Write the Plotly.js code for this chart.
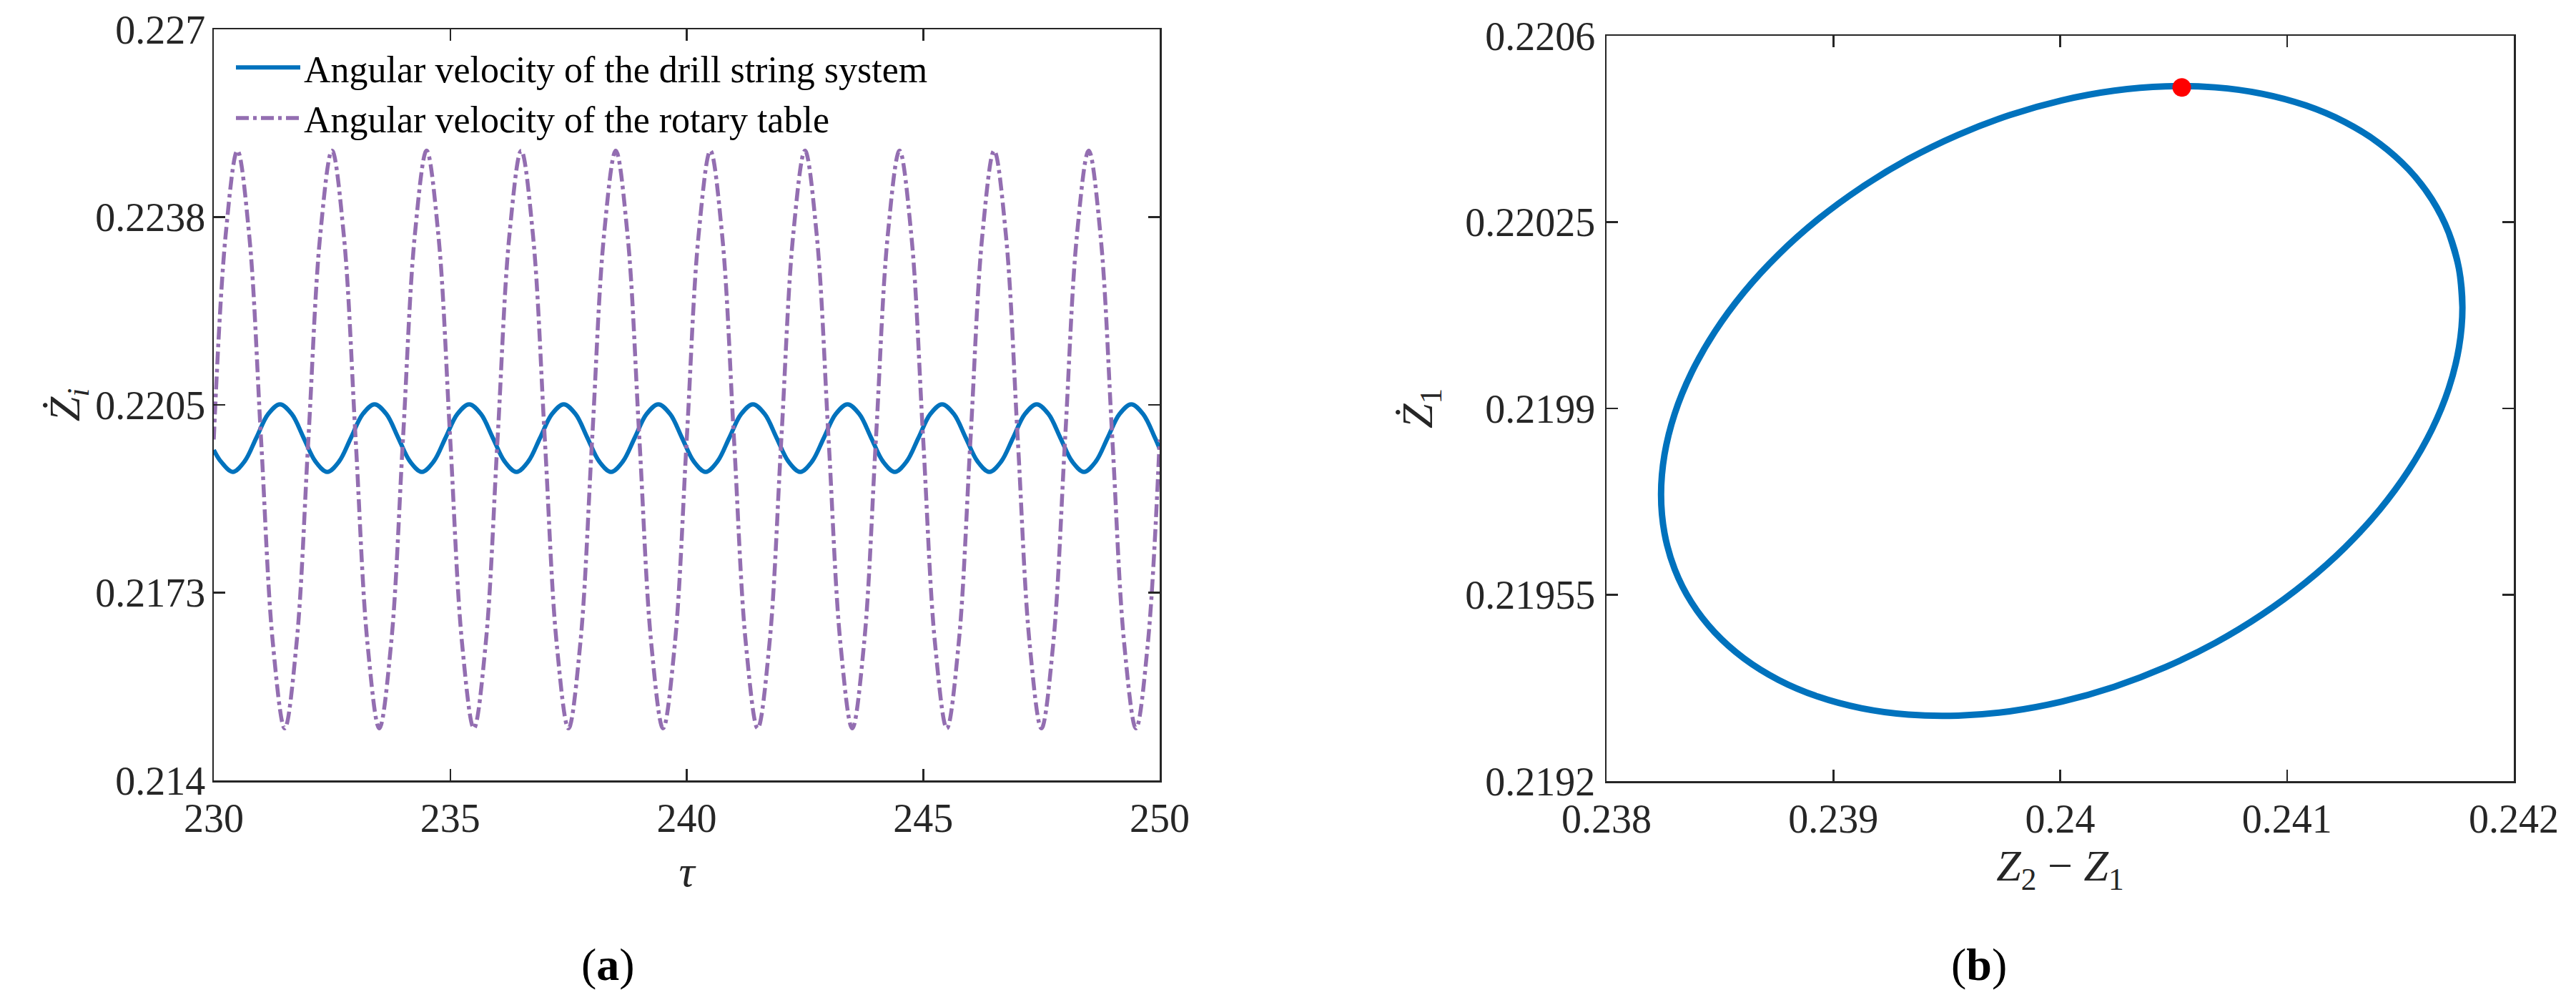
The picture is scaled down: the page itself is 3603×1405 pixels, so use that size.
<!DOCTYPE html>
<html>
<head>
<meta charset="utf-8">
<script src="https://cdn.plot.ly/plotly-3.0.1.min.js"></script>
<style>html,body{margin:0;padding:0;background:#fff;}#chart{width:3603px;height:1405px;}</style>
</head>
<body>
<div id="chart"></div>
<script>
// ---- Panel (a): time histories ----
var tauTable = [230,230.25,230.5,230.75,231,231.25,231.5,231.75,232,232.25,232.5,232.75,233,233.25,233.5,233.75,234,234.25,234.5,234.75,235,235.25,235.5,235.75,236,236.25,236.5,236.75,237,237.25,237.5,237.75,238,238.25,238.5,238.75,239,239.25,239.5,239.75,240,240.25,240.5,240.75,241,241.25,241.5,241.75,242,242.25,242.5,242.75,243,243.25,243.5,243.75,244,244.25,244.5,244.75,245,245.25,245.5,245.75,246,246.25,246.5,246.75,247,247.25,247.5,247.75,248,248.25,248.5,248.75,249,249.25,249.5,249.75,250];
var omegaTable = [0.2199,0.22343,0.2249,0.22343,0.2199,0.21637,0.2149,0.21637,
0.2199,0.22343,0.2249,0.22343,0.2199,0.21637,0.2149,0.21637,
0.2199,0.22343,0.2249,0.22343,0.2199,0.21637,0.2149,0.21637,
0.2199,0.22343,0.2249,0.22343,0.2199,0.21637,0.2149,0.21637,
0.2199,0.22343,0.2249,0.22343,0.2199,0.21637,0.2149,0.21637,
0.2199,0.22343,0.2249,0.22343,0.2199,0.21637,0.2149,0.21637,
0.2199,0.22343,0.2249,0.22343,0.2199,0.21637,0.2149,0.21637,
0.2199,0.22343,0.2249,0.22343,0.2199,0.21637,0.2149,0.21637,
0.2199,0.22343,0.2249,0.22343,0.2199,0.21637,0.2149,0.21637,
0.2199,0.22343,0.2249,0.22343,0.2199,0.21637,0.2149,0.21637,
0.2199];

var tauDrill = [230,230.15,230.4,230.65,230.9,231.15,231.4,231.65,231.9,
232.15,232.4,232.65,232.9,233.15,233.4,233.65,233.9,
234.15,234.4,234.65,234.9,235.15,235.4,235.65,235.9,
236.15,236.4,236.65,236.9,237.15,237.4,237.65,237.9,
238.15,238.4,238.65,238.9,239.15,239.4,239.65,239.9,
240.15,240.4,240.65,240.9,241.15,241.4,241.65,241.9,
242.15,242.4,242.65,242.9,243.15,243.4,243.65,243.9,
244.15,244.4,244.65,244.9,245.15,245.4,245.65,245.9,
246.15,246.4,246.65,246.9,247.15,247.4,247.65,247.9,
248.15,248.4,248.65,248.9,249.15,249.4,249.65,249.9,250];
var omegaDrill = [0.21972,0.21952,0.21934,0.21952,0.21993,0.22034,0.22051,0.22034,0.21993,
0.21952,0.21934,0.21952,0.21993,0.22034,0.22051,0.22034,0.21993,
0.21952,0.21934,0.21952,0.21993,0.22034,0.22051,0.22034,0.21993,
0.21952,0.21934,0.21952,0.21993,0.22034,0.22051,0.22034,0.21993,
0.21952,0.21934,0.21952,0.21993,0.22034,0.22051,0.22034,0.21993,
0.21952,0.21934,0.21952,0.21993,0.22034,0.22051,0.22034,0.21993,
0.21952,0.21934,0.21952,0.21993,0.22034,0.22051,0.22034,0.21993,
0.21952,0.21934,0.21952,0.21993,0.22034,0.22051,0.22034,0.21993,
0.21952,0.21934,0.21952,0.21993,0.22034,0.22051,0.22034,0.21993,
0.21952,0.21934,0.21952,0.21993,0.22034,0.22051,0.22034,0.21993,0.21974];

// ---- Panel (b): phase portrait (points read along the closed orbit; first three repeated to close it smoothly) ----
var relDisp = [0.2417735,0.2417584,0.2417133,0.2416390,0.2415368,0.2414085,0.2412561,0.2410824,
0.2408903,0.2406830,0.2404642,0.2402376,0.2400070,0.2397764,0.2395498,0.2393310,
0.2391238,0.2389316,0.2387579,0.2386055,0.2384772,0.2383750,0.2383007,0.2382556,
0.2382405,0.2382556,0.2383007,0.2383750,0.2384772,0.2386055,0.2387579,0.2389316,
0.2391238,0.2393310,0.2395498,0.2397764,0.2400070,0.2402376,0.2404642,0.2406830,
0.2408903,0.2410824,0.2412561,0.2414085,0.2415368,0.2416390,0.2417133,0.2417584,
0.2417735,0.2417584,0.2417133];
var velDrill = [0.2200900,0.2201622,0.2202301,0.2202927,0.2203487,0.2203974,0.2204378,0.2204692,
0.2204911,0.2205031,0.2205050,0.2204969,0.2204787,0.2204509,0.2204139,0.2203685,
0.2203150,0.2202549,0.2201889,0.2201182,0.2200439,0.2199675,0.2198902,0.2198132,
0.2197380,0.2196658,0.2195979,0.2195353,0.2194793,0.2194306,0.2193902,0.2193588,
0.2193369,0.2193249,0.2193230,0.2193311,0.2193493,0.2193771,0.2194141,0.2194595,
0.2195130,0.2195732,0.2196391,0.2197098,0.2197841,0.2198605,0.2199378,0.2200148,
0.2200900,0.2201622,0.2202301];
var markX = [0.240536];
var markY = [0.220503];

// ---- Tick labels ----
var ticksA_x = [230,235,240,245,250];
var ticksA_y = [0.214,0.21725,0.2205,0.22375,0.227];
var ticksA_yText = ['0.214','0.2173','0.2205','0.2238','0.227'];
var ticksB_x = [0.238,0.239,0.240,0.241,0.242];
var ticksB_xText = ['0.238','0.239','0.24','0.241','0.242'];
var ticksB_y = [0.2192,0.21955,0.2199,0.22025,0.2206];
var ticksB_yText = ['0.2192','0.21955','0.2199','0.22025','0.2206'];

var legendNames = ['Angular velocity of the drill string system','Angular velocity of the rotary table'];

var FONT = 'Liberation Serif, Times New Roman, serif';
var AX = '#262626';
var W = 3603, H = 1405;

var traces = [
  {x: tauDrill, y: omegaDrill, type: 'scatter', mode: 'lines', name: legendNames[0],
   line: {color: '#0072BD', width: 6, shape: 'spline', smoothing: 1}, xaxis: 'x', yaxis: 'y'},
  {x: tauTable, y: omegaTable, type: 'scatter', mode: 'lines', name: legendNames[1],
   line: {color: '#936EB1', width: 5.5, shape: 'spline', smoothing: 1, dash: '18px,6px,5px,6px'}, xaxis: 'x', yaxis: 'y'},
  {x: relDisp, y: velDrill, type: 'scatter', mode: 'lines', showlegend: false,
   line: {color: '#0072BD', width: 9, shape: 'spline', smoothing: 1}, xaxis: 'x2', yaxis: 'y2'},
  {x: markX, y: markY, type: 'scatter', mode: 'markers', showlegend: false,
   marker: {color: '#FF0000', size: 26}, xaxis: 'x2', yaxis: 'y2'}
];

function axisBase() {
  return {
    showline: true, linecolor: AX, linewidth: 2.5, mirror: 'ticks',
    ticks: 'inside', ticklen: 16, tickwidth: 2.5, tickcolor: AX,
    showgrid: false, zeroline: false, fixedrange: true,
    tickfont: {family: FONT, size: 56, color: AX},
    tickmode: 'array'
  };
}

var xa = Object.assign(axisBase(), {
  domain: [299/W, 1622/W], range: [230, 250], anchor: 'y',
  tickvals: ticksA_x, ticktext: ticksA_x.map(String), ticklabelstandoff: 2,
  title: {text: '<i>τ</i>', font: {family: FONT, size: 62, color: AX}, standoff: 22}
});
var ya = Object.assign(axisBase(), {
  domain: [1 - 1091/H, 1 - 41/H], range: [0.214, 0.227], anchor: 'x',
  tickvals: ticksA_y, ticktext: ticksA_yText, ticklabelstandoff: -2,
  title: {text: '<i>Ż</i><sub><i>i</i></sub>', font: {family: FONT, size: 62, color: AX}, standoff: 2}
});
var xb = Object.assign(axisBase(), {
  domain: [2247/W, 3516/W], range: [0.238, 0.242], anchor: 'y2',
  tickvals: ticksB_x, ticktext: ticksB_xText, ticklabelstandoff: 2,
  title: {text: '<i>Z</i><sub>2</sub> − <i>Z</i><sub>1</sub>', font: {family: FONT, size: 62, color: AX}, standoff: 2}
});
var yb = Object.assign(axisBase(), {
  domain: [1 - 1092/H, 1 - 50/H], range: [0.2192, 0.2206], anchor: 'x2',
  tickvals: ticksB_y, ticktext: ticksB_yText, ticklabelstandoff: 2,
  title: {text: '<i>Ż</i><sub>1</sub>', font: {family: FONT, size: 62, color: AX}, standoff: 26}
});

var layout = {
  width: W, height: H,
  margin: {l: 0, r: 0, t: 0, b: 0},
  paper_bgcolor: '#ffffff', plot_bgcolor: '#ffffff',
  showlegend: true,
  legend: {
    x: 325/W, y: 1 - 54/H, xanchor: 'left', yanchor: 'top',
    bgcolor: 'rgba(0,0,0,0)', borderwidth: 0,
    font: {family: FONT, size: 52, color: '#000000'},
    itemwidth: 90, tracegroupgap: 0
  },
  xaxis: xa, yaxis: ya, xaxis2: xb, yaxis2: yb,
  annotations: [
    {text: '(<b>a</b>)', xref: 'paper', yref: 'paper', x: 850/W, y: 1 - 1348/H,
     xanchor: 'center', yanchor: 'middle', showarrow: false,
     font: {family: FONT, size: 64, color: '#000000'}},
    {text: '(<b>b</b>)', xref: 'paper', yref: 'paper', x: 2768/W, y: 1 - 1348/H,
     xanchor: 'center', yanchor: 'middle', showarrow: false,
     font: {family: FONT, size: 64, color: '#000000'}}
  ]
};

Plotly.newPlot('chart', traces, layout, {displayModeBar: false, staticPlot: true});
</script>
</body>
</html>
